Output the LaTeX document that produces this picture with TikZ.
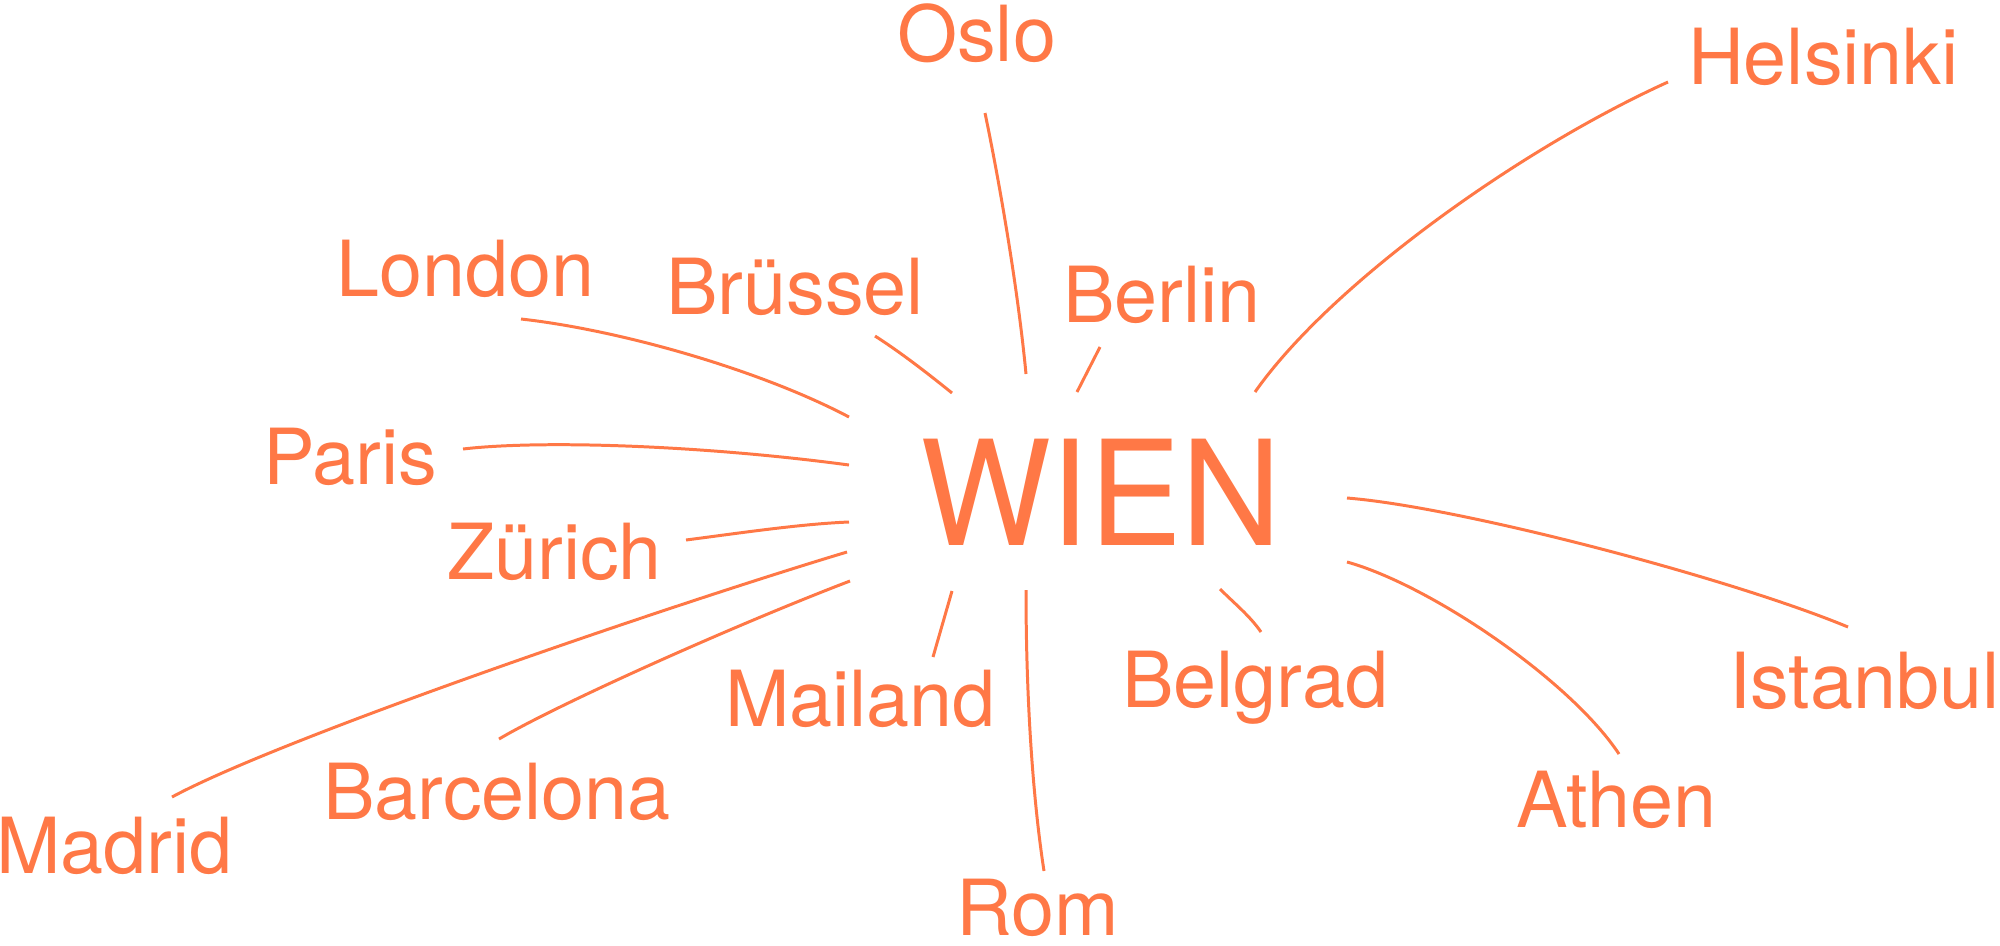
\documentclass[tikz,border=0pt]{standalone}
\usepackage{fontspec}
\setmainfont{TeX Gyre Heros}
\definecolor{vo}{HTML}{FF7846}
\begin{document}
\begin{tikzpicture}[x=0.01cm,y=-0.01cm,
  city/.style={anchor=base west, inner sep=0pt, outer sep=0pt, text=vo, font=\fontsize{22}{26}\selectfont},
  hub/.style={anchor=base west, inner sep=0pt, outer sep=0pt, text=vo, font=\fontsize{41.5}{48}\selectfont},
  link/.style={draw=vo, line width=0.85pt}]
\useasboundingbox (0,0) rectangle (2000,945);

% labels
\node[city] (oslo) at (897,61) {Oslo};
\node[city] (helsinki) at (1688,84) {Helsinki};
\node[city] (london) at (336,296) {London};
\node[city] (bruessel) at (666,314) {Brüssel};
\node[city] (berlin) at (1063,322) {Berlin};
\node[city] (paris) at (263,484) {Paris};
\node[hub] (wien) at (920,545) {\scalebox{0.95}[1]{WIEN}};
\node[city] (zuerich) at (447,579) {Zürich};
\node[city] (mailand) at (725,726) {Mailand};
\node[city] (belgrad) at (1122,707) {Belgrad};
\node[city] (istanbul) at (1729,708) {Istanbul};
\node[city] (madrid) at (-4,873) {Madrid};
\node[city] (barcelona) at (323,819) {Barcelona};
\node[city] (athen) at (1516,827) {Athen};
\node[city] (rom) at (956,935) {Rom};

% connector end points
\coordinate (oslo-a) at (985,113);   \coordinate (oslo-b) at (1026,374);
\coordinate (hel-a) at (1668,82);    \coordinate (hel-b) at (1255,392);
\coordinate (ber-a) at (1100,347);   \coordinate (ber-b) at (1077,392);
\coordinate (bru-a) at (875,336);    \coordinate (bru-b) at (952,393);
\coordinate (lon-a) at (521,319);    \coordinate (lon-b) at (849,417);
\coordinate (par-a) at (463,449);    \coordinate (par-b) at (849,465);
\coordinate (zue-a) at (686,540);    \coordinate (zue-b) at (849,522);
\coordinate (mad-a) at (172,797);    \coordinate (mad-b) at (847,552);
\coordinate (bar-a) at (499,739);    \coordinate (bar-b) at (850,581);
\coordinate (mai-a) at (952,591);    \coordinate (mai-b) at (933,657);
\coordinate (rom-a) at (1026,590);   \coordinate (rom-b) at (1044,871);
\coordinate (bel-a) at (1220,589);   \coordinate (bel-b) at (1261,632);
\coordinate (ist-a) at (1347,498);   \coordinate (ist-b) at (1848,627);
\coordinate (ath-a) at (1347,562);   \coordinate (ath-b) at (1619,754);

% connectors
\draw[link] (oslo-a) .. controls (1000,185) and (1018,290) .. (oslo-b);
\draw[link] (hel-a) .. controls (1518,150) and (1330,285) .. (hel-b);
\draw[link] (ber-a) -- (ber-b);
\draw[link] (bru-a) .. controls (900,352) and (926,372) .. (bru-b);
\draw[link] (lon-a) .. controls (620,330) and (760,370) .. (lon-b);
\draw[link] (par-a) .. controls (540,440) and (700,445) .. (par-b);
\draw[link] (zue-a) .. controls (740,533) and (800,524) .. (zue-b);
\draw[link] (mad-a) .. controls (283,737) and (677,603) .. (mad-b);
\draw[link] (bar-a) .. controls (560,703) and (740,623) .. (bar-b);
\draw[link] (mai-a) -- (mai-b);
\draw[link] (rom-a) .. controls (1026,700) and (1033,800) .. (rom-b);
\draw[link] (bel-a) .. controls (1235,604) and (1250,616) .. (bel-b);
\draw[link] (ist-a) .. controls (1460,507) and (1730,578) .. (ist-b);
\draw[link] (ath-a) .. controls (1430,585) and (1570,680) .. (ath-b);
\end{tikzpicture}
\end{document}
